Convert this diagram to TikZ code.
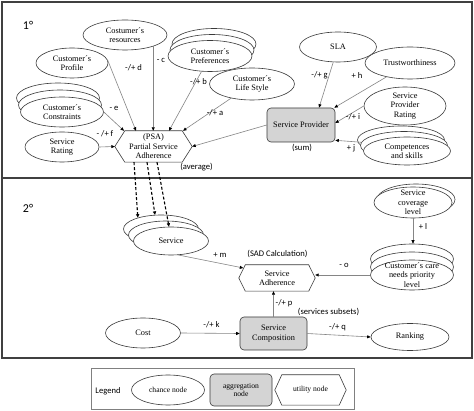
\documentclass[tikz,border=0pt]{standalone}
\usepackage{fontspec}
\setmainfont{Liberation Serif}
\newfontfamily\labelfont{Carlito}
\usetikzlibrary{arrows.meta,shapes.geometric}
\definecolor{framec}{HTML}{404040}
\definecolor{nodeline}{HTML}{3A3A3A}
\definecolor{aggfill}{HTML}{D4D4D4}
\definecolor{connc}{HTML}{858585}
\newcommand\hexline[2]{\draw[utilline] (#1.west) -- ([xshift=#2]#1.north west) -- ([xshift=-#2]#1.north east) -- (#1.east) -- ([xshift=-#2]#1.south east) -- ([xshift=#2]#1.south west) -- cycle;}
\begin{document}
\begin{tikzpicture}[x=1pt,y=-1pt,
  sz/.style 2 args={minimum width=#1pt, minimum height=#2pt},
  nodefont/.style={font=\fontsize{8.3}{9.4}\selectfont},
  chance/.style={ellipse, draw=nodeline, line width=0.6pt, fill=white, inner sep=-3pt, align=center, nodefont},
  aggr/.style={rectangle, rounded corners=4pt, draw=nodeline, line width=0.6pt, fill=aggfill, inner sep=0pt, align=center, nodefont},
  util/.style={rectangle, inner sep=0pt, align=center, nodefont},
  utilline/.style={draw=nodeline, line width=0.6pt},
  txt/.style={inner sep=0pt, align=center, nodefont},
  lbl/.style={font=\labelfont\fontsize{8.6}{10}\selectfont, inner sep=0pt},
  big/.style={font=\labelfont\fontsize{12}{14}\selectfont, inner sep=0pt},
  framel/.style={draw=framec, line width=1.5pt},
  conn/.style={draw=connc, line width=0.6pt, -{Triangle[length=3.5pt,width=3pt,color=black]}},
  dconn/.style={draw=black, line width=1.1pt, dash pattern=on 3pt off 2pt, -{Triangle[length=3.5pt,width=3.2pt,color=black]}},
  legfont/.style={font=\fontsize{7.6}{8.6}\selectfont}
]
\useasboundingbox (0,0) rectangle (474,411);
\fill[white] (0,0) rectangle (474,411);

% frames
\draw[framel] (2,2) rectangle (472,358);
\draw[framel] (2,178) -- (472,178);
\node[big] (one) at (28,25) {1°};
\node[big] (two) at (28,208) {2°};

% ---------- panel 1 ----------
\node[chance, sz={84}{30}] (res) at (125,35) {Costumer´s\\resources};
\node[chance, sz={72}{30}] (prof) at (72,63) {Customer´s\\Profile};
\node[chance, sz={84}{31}] (pref3) at (214,44) {};
\node[chance, sz={84}{31}] (pref2) at (212,50) {};
\node[chance, sz={84}{31}] (pref) at (210,56) {Customer´s\\Preferences};
\node[chance, sz={85}{32}] (life) at (252,84) {Customer´s\\Life Style};
\node[chance, sz={83}{30}] (cons3) at (58,98) {};
\node[chance, sz={83}{30}] (cons2) at (60,105) {};
\node[chance, sz={83}{30}] (cons) at (62,112) {Customer´s\\Constraints};
\node[chance, sz={74}{30}] (srat) at (62,147) {Service\\Rating};
\node[util, sz={77}{31}] (psa) at (153.5,146.5) {(PSA)\\Partial Service\\Adherence};
\hexline{psa}{10pt}
\node[lbl] (avg) at (196.5,167) {(average)};

\node[aggr, sz={68}{34}] (sp) at (301,125) {Service Provider};
\node[lbl] (sum) at (302,148) {(sum)};
\node[chance, sz={77}{30}] (sla) at (338,47) {SLA};
\node[chance, sz={90}{32}] (trust) at (410,63) {Trustworthiness};
\node[chance, sz={82}{38}] (sprat) at (405,106) {Service\\Provider\\Rating};
\node[chance, sz={87}{28}] (comp3) at (401,140) {};
\node[chance, sz={87}{28}] (comp2) at (404,145.5) {};
\node[chance, sz={87}{28}] (comp) at (407,151) {Competences\\and skills};

% connectors panel 1
\draw[conn] (cons.east) -- ([xshift=-29.5pt]psa.north);
\draw[conn] (srat.east) -- (psa.west);
\draw[conn] (prof.5) -- ([xshift=-17.5pt]psa.north);
\draw[conn] (res.-22) -- (res.-22 |- psa.north);
\draw[conn] (pref) -- ([xshift=15.5pt]psa.north);
\draw[conn] (life) -- ([xshift=29.5pt]psa.north);
\draw[conn] (sp.west) -- (psa.east);
\draw[conn] (sla) -- ([xshift=18pt]sp.north);
\draw[conn] (trust) -- ([xshift=-1pt]sp.north east);
\draw[conn] (sprat.west) -- ([yshift=2pt]sp.east);
\draw[conn] (comp2) -- ([yshift=2pt]sp.south east);

\node[lbl] (le) at (114,108) {- e};
\node[lbl] (lf) at (105,134) {- /+ f};
\node[lbl] (ld) at (133.5,68) {-/+ d};
\node[lbl] (lc) at (161,60) {- c};
\node[lbl] (lb) at (198.5,82) {-/+ b};
\node[lbl] (la) at (215,113) {-/+ a};
\node[lbl] (lg) at (319.5,75) {-/+ g};
\node[lbl] (lh) at (357,76) {+ h};
\node[lbl] (li) at (353,117) {-/+ i};
\node[lbl] (lj) at (351,148) {+ j};

% ---------- panel 2 ----------
\node[chance, sz={75}{28}] (serv3) at (161,229) {};
\node[chance, sz={75}{28}] (serv2) at (166,235) {};
\node[chance, sz={75}{28}] (serv) at (171,241) {Service};

\draw[dconn] ([xshift=-19.5pt]psa.south) -- (serv3.154);
\draw[dconn] ([xshift=-6.5pt]psa.south) -- (serv3.113);
\draw[dconn] ([xshift=3.5pt]psa.south) -- (serv.98);

\node[util, sz={76}{26}] (sad) at (277,278) {Service\\Adherence};
\hexline{sad}{6.5pt}
\node[lbl] (sadc) at (277.5,254) {(SAD Calculation)};

\node[aggr, sz={67}{33}] (scomp) at (273.5,333.5) {Service\\Composition};
\node[chance, sz={75}{30}] (cost) at (143,333) {Cost};
\node[chance, sz={78}{27}] (rank) at (410,337) {Ranking};

\node[chance, sz={78}{31}] (cov2) at (416,199.5) {};
\node[chance, sz={78}{31}] (cov) at (413,202.5) {Service\\coverage\\level};
\node[chance, sz={83}{30}] (care3) at (412,259) {};
\node[chance, sz={83}{30}] (care2) at (412,267) {};
\node[chance, sz={83}{30}] (care) at (412,275) {};
\node[txt] (caret) at (412,275) {Customer´s care\\needs priority\\level};

\draw[conn] (cov.south) -- (cov.south |- care3.north);
\draw[conn] (care.west) -- (care.west -| sad.east);
\draw[conn] (serv.-62) -- ([xshift=4.5pt,yshift=10pt]sad.west);
\draw[conn] (scomp.north) -- (scomp.north |- sad.south);
\draw[conn] (cost.east) -- (scomp.west);
\draw[conn] (scomp.east) -- (rank.west);

\node[lbl] (ll) at (423,227) {+ l};
\node[lbl] (lo) at (344,265) {- o};
\node[lbl] (lm) at (220,255) {+ m};
\node[lbl] (lp) at (284,303) {-/+ p};
\node[lbl] (lss) at (328.5,312) {(services subsets)};
\node[lbl] (lk) at (211.5,325) {-/+ k};
\node[lbl] (lq) at (337.5,327) {-/+ q};

% ---------- legend ----------
\node[draw=black!50, line width=0.8pt, sz={263}{41}, inner sep=0pt] (legbox) at (222.5,388.5) {};
\node[lbl] (leg) at (108,391) {Legend};
\node[chance, sz={73}{30}, legfont] (lchance) at (168,390) {chance node};
\node[aggr, sz={62}{32}, legfont] (lagg) at (241,390) {aggregation\\node};
\node[util, sz={71}{30}, legfont] (lutil) at (310.5,390) {utility node};
\hexline{lutil}{7pt}
\end{tikzpicture}
\end{document}
